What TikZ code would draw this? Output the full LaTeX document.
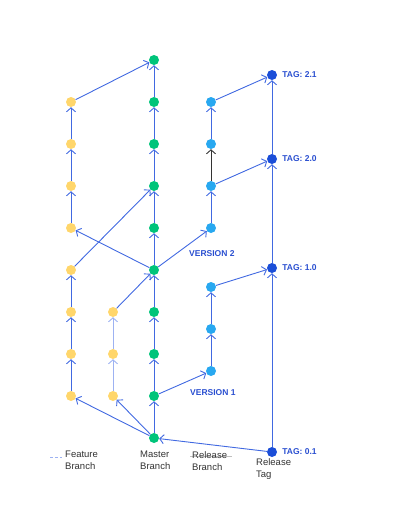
\documentclass[tikz,border=0pt]{standalone}
\usepackage{fontspec}
\setmainfont{Liberation Sans}
\usetikzlibrary{arrows.meta}
\definecolor{featc}{HTML}{FFD66B}
\definecolor{masterc}{HTML}{00C47A}
\definecolor{relc}{HTML}{28A8F0}
\definecolor{tagc}{HTML}{1B4ED8}
\definecolor{linec}{HTML}{4169E1}
\definecolor{palec}{HTML}{9DB2F2}
\definecolor{labc}{HTML}{2A4FD0}
\definecolor{capc}{HTML}{333333}
\begin{document}
\begin{tikzpicture}[x=1pt,y=-1pt,
  dot/.style={circle,inner sep=0pt,minimum size=10pt},
  edge/.style={draw=linec,line width=0.9pt,-{Straight Barb[length=4pt,width=9pt]}},
  tagtxt/.style={anchor=west,inner sep=0pt,text=labc,font=\fontsize{8.5}{10}\selectfont\bfseries},
  caption/.style={anchor=north west,align=left,inner sep=0pt,text=capc,font=\fontsize{9.5}{12}\selectfont}]
    \useasboundingbox (0,0) rectangle (412,515);
    \foreach \n in {0,...,9} \node [dot,fill=masterc] (m\n) at (154,{60+42*\n}) {};
    \foreach \n in {1,...,8} \node [dot,fill=featc] (fa\n) at (71,{60+42*\n}) {};
    \foreach \n in {6,7,8} \node [dot,fill=featc] (fb\n) at (113,{60+42*\n}) {};
    \foreach \n in {1,...,4} \node [dot,fill=relc] (ra\n) at (211,{60+42*\n}) {};
    \foreach \n/\y in {1/287,2/329,3/371} \node [dot,fill=relc] (rb\n) at (211,\y) {};
    \foreach \n/\y/\t in {01/452/0.1,10/268/1.0,20/159/2.0,21/75/2.1}{
      \node [dot,fill=tagc] (t\n) at (272,\y) {};
      \node [tagtxt] (tl\n) at ([xshift=5pt]t\n.east) {TAG: \t};
    }
    \node [tagtxt] (v2) at (189,254) {VERSION 2};
    \node [tagtxt] (v1) at (190,393) {VERSION 1};
    \foreach \n [remember=\n as \p (initially 9)] in {8,...,0} \draw [edge] (m\p) -- (m\n);
    \foreach \a/\b in {8/7,7/6,6/5,4/3,3/2,2/1} \draw [edge] (fa\a) -- (fa\b);
    \foreach \a/\b in {8/7,7/6} \draw [edge,draw=palec] (fb\a) -- (fb\b);
    \draw [edge] (m9) -- (fa8);
    \draw [edge] (m9) -- (fb8);
    \draw [edge] (fb6) -- (m5);
    \draw [edge] (fa5) -- (m3);
    \draw [edge] (m5) -- (fa4);
    \draw [edge] (fa1) -- (m0);
    \draw [edge] (m8) -- (rb3);
    \draw [edge] (rb3) -- (rb2);
    \draw [edge] (rb2) -- (rb1);
    \draw [edge] (rb1) -- (t10);
    \draw [edge] (m5) -- (ra4);
    \draw [edge] (ra4) -- (ra3);
    \draw [edge,draw=capc] (ra3) -- (ra2);
    \draw [edge] (ra2) -- (ra1);
    \draw [edge] (ra3) -- (t20);
    \draw [edge] (ra1) -- (t21);
    \draw [edge] (t01) -- (t10);
    \draw [edge] (t10) -- (t20);
    \draw [edge] (t20) -- (t21);
    \draw [edge] (t01) -- (m9);
    \draw [densely dashed,palec,line width=0.5pt] (50,457) -- (62,457);
    \draw [black!25,line width=0.5pt] (190,456) -- (232,456);
    \node [caption] (cf) at (65,451) {Feature\\Branch};
    \node [caption] (cm) at (140,451) {Master\\Branch};
    \node [caption] (cr) at (192,451) {Release\\Branch};
    \node [caption] (ct) at (256,458) {Release\\Tag};
\end{tikzpicture}
\end{document}
